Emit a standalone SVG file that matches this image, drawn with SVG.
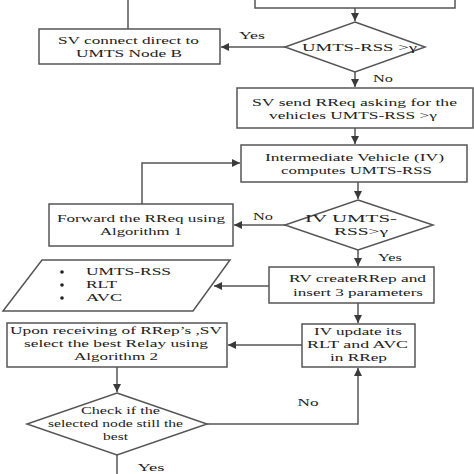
<svg xmlns="http://www.w3.org/2000/svg" width="474" height="474" viewBox="0 0 474 474">
<defs>
<marker id="ah" viewBox="0 0 10 10" refX="10" refY="5" markerWidth="8" markerHeight="8" markerUnits="userSpaceOnUse" orient="auto">
<path d="M0,0 L10,5 L0,10 z" fill="#3a3a3a"/>
</marker>
<style>
.s{fill:#fff;stroke:#555;stroke-width:1.5}
.c{fill:none;stroke:#555;stroke-width:1.5}
text{font-family:"Liberation Serif","Times New Roman",serif;font-size:11px;fill:#222;text-anchor:middle}
.l{text-anchor:start}
</style>
</defs>
<rect width="474" height="474" fill="#fff"/>
<g id="connectors">
<path class="c" d="M128,29 V0"/>
<path class="c" d="M355,8 V21" marker-end="url(#ah)"/>
<path class="c" d="M285,47 H221" marker-end="url(#ah)"/>
<path class="c" d="M355,72 V87" marker-end="url(#ah)"/>
<path class="c" d="M355,128 V144" marker-end="url(#ah)"/>
<path class="c" d="M142,204 V163 H240" marker-end="url(#ah)"/>
<path class="c" d="M358,182 V199" marker-end="url(#ah)"/>
<path class="c" d="M285,225 H234" marker-end="url(#ah)"/>
<path class="c" d="M358,250 V266" marker-end="url(#ah)"/>
<path class="c" d="M269,286 H214" marker-end="url(#ah)"/>
<path class="c" d="M358,303 V323" marker-end="url(#ah)"/>
<path class="c" d="M302,345 H228" marker-end="url(#ah)"/>
<path class="c" d="M117,367 V392" marker-end="url(#ah)"/>
<path class="c" d="M207,424 H358 V368" marker-end="url(#ah)"/>
<path class="c" d="M117,455 V474"/>
<text x="252" y="39" textLength="26" lengthAdjust="spacingAndGlyphs">Yes</text>
<text x="383" y="82" textLength="20" lengthAdjust="spacingAndGlyphs">No</text>
<text x="263" y="220" textLength="20" lengthAdjust="spacingAndGlyphs">No</text>
<text x="390" y="261" textLength="24" lengthAdjust="spacingAndGlyphs">Yes</text>
<text x="308" y="406" textLength="21" lengthAdjust="spacingAndGlyphs">No</text>
<text x="151" y="471" textLength="27" lengthAdjust="spacingAndGlyphs">Yes</text>
</g>
<g id="top-box">
<path class="s" d="M255,0 V8 H455 V0"/>
</g>
<g id="sv-connect">
<rect class="s" x="39" y="29" width="181" height="35"/>
<text x="128.5" y="44" textLength="141" lengthAdjust="spacingAndGlyphs">SV connect direct to</text>
<text x="129" y="57" textLength="106" lengthAdjust="spacingAndGlyphs">UMTS Node B</text>
</g>
<g id="decision-1">
<polygon class="s" points="355,22 425,47 355,72 285,47"/>
<text x="359.5" y="51" textLength="115" lengthAdjust="spacingAndGlyphs">UMTS-RSS &gt;γ</text>
</g>
<g id="sv-send">
<rect class="s" x="237" y="88" width="236" height="40"/>
<text x="354.5" y="106" textLength="205" lengthAdjust="spacingAndGlyphs">SV send RReq  asking for the</text>
<text x="353" y="119" textLength="168" lengthAdjust="spacingAndGlyphs">vehicles UMTS-RSS &gt;γ</text>
</g>
<g id="intermediate">
<rect class="s" x="241" y="145" width="226" height="37"/>
<text x="354.5" y="161" textLength="179" lengthAdjust="spacingAndGlyphs">Intermediate Vehicle (IV)</text>
<text x="356.5" y="174" textLength="151" lengthAdjust="spacingAndGlyphs">computes UMTS-RSS</text>
</g>
<g id="decision-2">
<polygon class="s" points="358,200 433,225 358,250 285,225"/>
<text x="351" y="222" textLength="92" lengthAdjust="spacingAndGlyphs">IV UMTS-</text>
<text x="361" y="235" textLength="54" lengthAdjust="spacingAndGlyphs">RSS&gt;γ</text>
</g>
<g id="forward">
<rect class="s" x="49" y="204" width="184" height="42"/>
<text x="141" y="222" textLength="168" lengthAdjust="spacingAndGlyphs">Forward the RReq using</text>
<text x="141" y="235" textLength="82" lengthAdjust="spacingAndGlyphs">Algorithm 1</text>
</g>
<g id="rv-create">
<rect class="s" x="269" y="267" width="165" height="36"/>
<text x="357.5" y="282" textLength="137" lengthAdjust="spacingAndGlyphs">RV createRRep and</text>
<text x="358" y="296" textLength="130" lengthAdjust="spacingAndGlyphs">insert 3 parameters</text>
</g>
<g id="parameters">
<polygon class="s" points="42,260 230,260 193,311 3,311"/>
<circle cx="62" cy="272" r="1.8" fill="#222"/>
<circle cx="62" cy="285" r="1.8" fill="#222"/>
<circle cx="62" cy="298" r="1.8" fill="#222"/>
<text class="l" x="86" y="275" textLength="85" lengthAdjust="spacingAndGlyphs">UMTS-RSS</text>
<text class="l" x="86" y="288" textLength="31" lengthAdjust="spacingAndGlyphs">RLT</text>
<text class="l" x="86" y="301" textLength="36" lengthAdjust="spacingAndGlyphs">AVC</text>
</g>
<g id="iv-update">
<rect class="s" x="302" y="324" width="113" height="43"/>
<text x="358" y="335" textLength="88" lengthAdjust="spacingAndGlyphs">IV update its</text>
<text x="357.5" y="348" textLength="101" lengthAdjust="spacingAndGlyphs">RLT and AVC</text>
<text x="358.5" y="361" textLength="57" lengthAdjust="spacingAndGlyphs">in RRep</text>
</g>
<g id="upon">
<rect class="s" x="7" y="323" width="220" height="44"/>
<text x="116" y="334" textLength="212" lengthAdjust="spacingAndGlyphs">Upon receiving of RRep’s ,SV</text>
<text x="116" y="347" textLength="184" lengthAdjust="spacingAndGlyphs">select the best Relay using</text>
<text x="116" y="360" textLength="84" lengthAdjust="spacingAndGlyphs">Algorithm 2</text>
</g>
<g id="decision-3">
<polygon class="s" points="117,393 207,424 117,455 27,424"/>
<text x="120.5" y="414" textLength="79" lengthAdjust="spacingAndGlyphs">Check  if the</text>
<text x="115.5" y="427" textLength="135" lengthAdjust="spacingAndGlyphs">selected node still the</text>
<text x="115.5" y="440" textLength="25" lengthAdjust="spacingAndGlyphs">best</text>
</g>
</svg>
